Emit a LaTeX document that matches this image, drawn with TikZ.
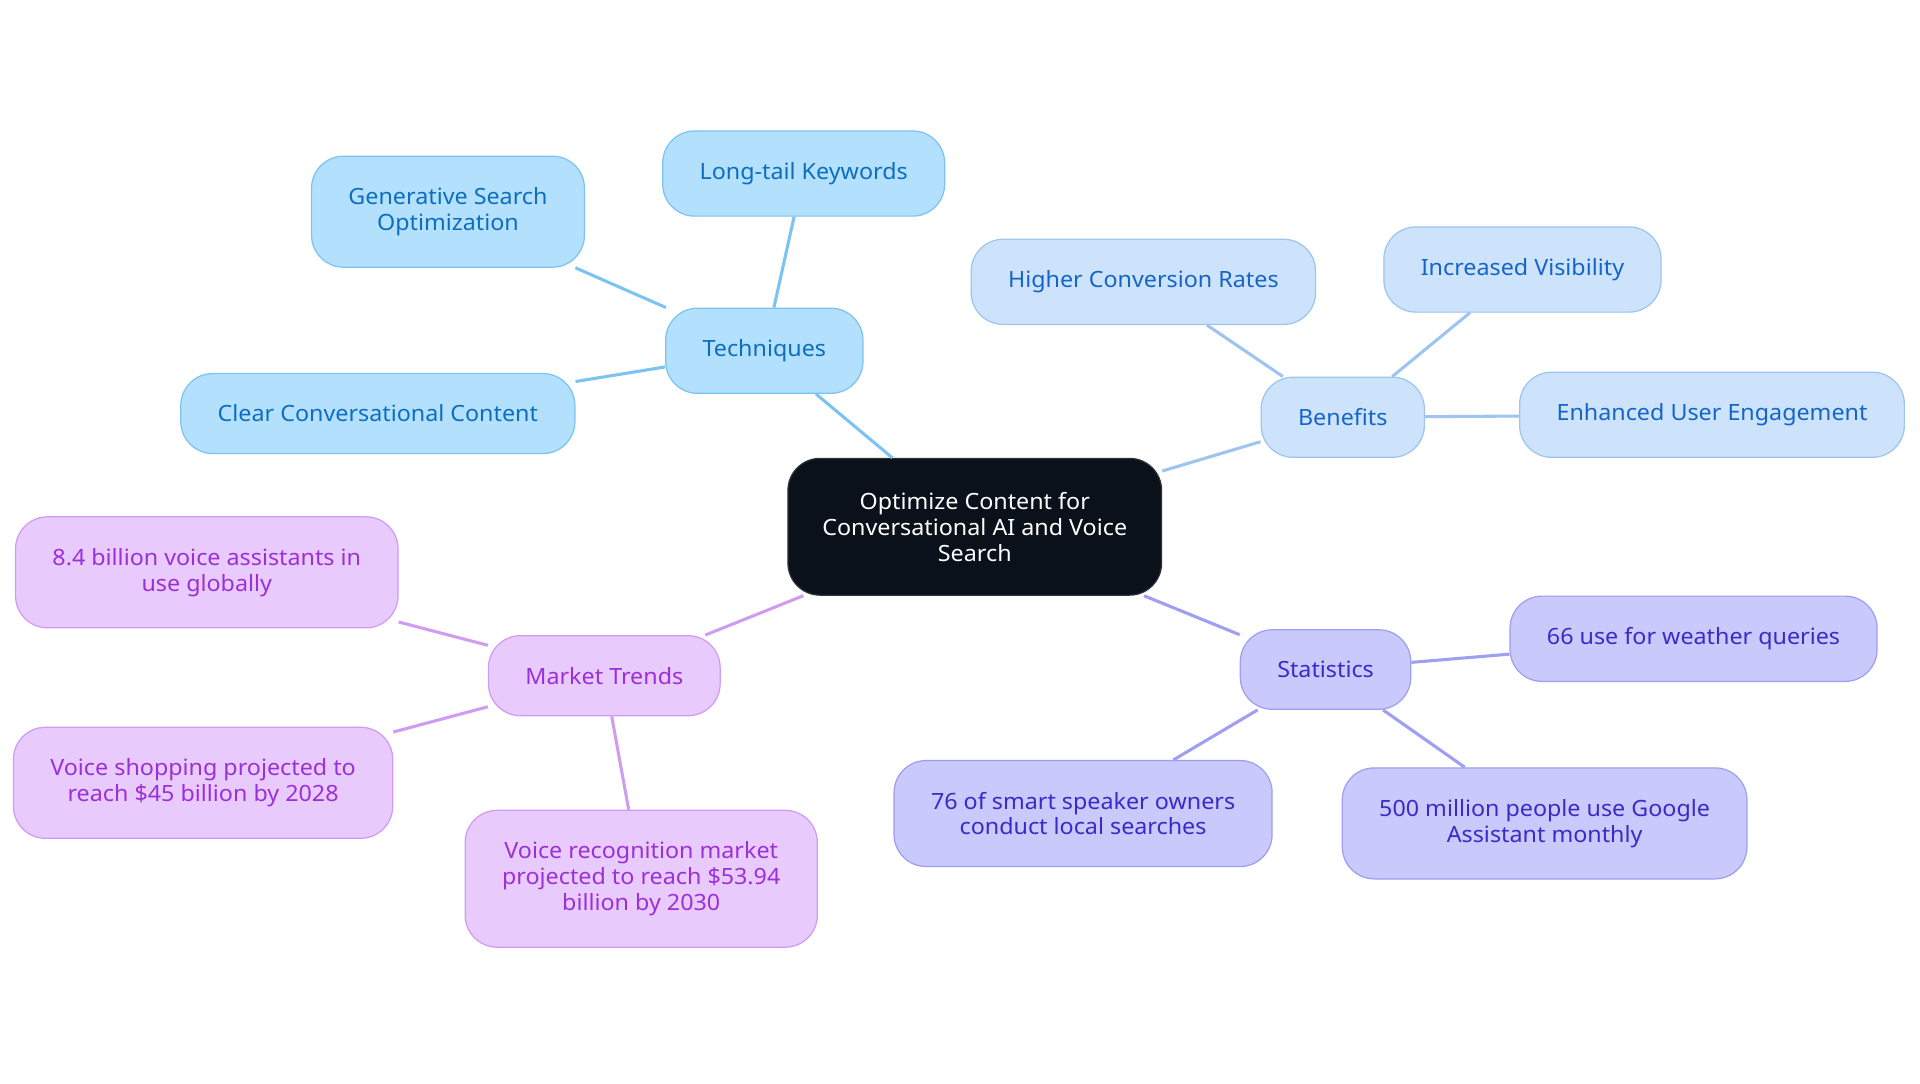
\documentclass[tikz,border=0pt]{standalone}
\usepackage{fontspec}
\setmainfont{Noto Sans}[FakeStretch=1.04]
\usetikzlibrary{calc}

\definecolor{rootfill}{HTML}{0B111A}
\definecolor{techfill}{HTML}{B3E0FD}
\definecolor{techdraw}{HTML}{7DC3F2}
\definecolor{techtext}{HTML}{0D6EC0}
\definecolor{benfill}{HTML}{CDE3FB}
\definecolor{bendraw}{HTML}{9DC5F0}
\definecolor{bentext}{HTML}{1565C8}
\definecolor{statfill}{HTML}{C9C9FC}
\definecolor{statdraw}{HTML}{9E9EF2}
\definecolor{stattext}{HTML}{3A2AC8}
\definecolor{mktfill}{HTML}{E8CAFC}
\definecolor{mktdraw}{HTML}{D09CF2}
\definecolor{mkttext}{HTML}{9B30D8}

\begin{document}
\begin{tikzpicture}
        [
        x=1pt, y=-1pt,
        every node/.style={rounded corners=26pt,align=center,inner xsep=30pt,inner ysep=25.5pt,
          font=\fontsize{18.2}{21}\selectfont,line width=1pt},
        root/.style={fill=rootfill,draw=rootfill!70!gray,text=white,inner xsep=28pt,inner ysep=27.5pt},
        tech/.style={fill=techfill,draw=techdraw,text=techtext},
        ben/.style={fill=benfill,draw=bendraw,text=bentext},
        stat/.style={fill=statfill,draw=statdraw,text=stattext},
        mkt/.style={fill=mktfill,draw=mktdraw,text=mkttext},
        techline/.style={draw=techdraw,line width=2.5pt},
        benline/.style={draw=bendraw,line width=2.5pt},
        statline/.style={draw=statdraw,line width=2.5pt},
        mktline/.style={draw=mktdraw,line width=2.5pt}
        ]
        \useasboundingbox (0,0) rectangle (1560,880);

        \node[root] (root) at (792,428) {Optimize Content for\\Conversational AI and Voice\\Search};

        \node[tech] (tech) at ($(root) + (-171,-143)$) {Techniques};
        \node[tech] (lt)   at ($(tech) + (32,-144)$)   {Long-tail Keywords};
        \node[tech] (gso)  at ($(tech) + (-257,-113)$) {Generative Search\\Optimization};
        \node[tech] (ccc)  at ($(tech) + (-314,51)$)   {Clear Conversational Content};

        \node[ben] (ben) at ($(root) + (299,-89)$) {Benefits};
        \node[ben] (hcr) at ($(ben) + (-162,-110)$) {Higher Conversion Rates};
        \node[ben] (iv)  at ($(ben) + (146,-120)$)  {Increased Visibility};
        \node[ben] (eue) at ($(ben) + (300,-2)$)    {Enhanced User Engagement};

        \node[stat] (stat) at ($(root) + (285,116)$) {Statistics};
        \node[stat] (w66)  at ($(stat) + (299,-25)$) {66 use for weather queries};
        \node[stat] (s76)  at ($(stat) + (-197,117)$) {76 of smart speaker owners\\conduct local searches};
        \node[stat] (g500) at ($(stat) + (178,125)$) {500 million people use Google\\Assistant monthly};

        \node[mkt] (mkt)  at ($(root) + (-301,121)$) {Market Trends};
        \node[mkt] (va84) at ($(mkt) + (-323,-84)$)  {8.4 billion voice assistants in\\use globally};
        \node[mkt] (vs45) at ($(mkt) + (-326,87)$)   {Voice shopping projected to\\reach \$45 billion by 2028};
        \node[mkt] (vr53) at ($(mkt) + (30,165)$)    {Voice recognition market\\projected to reach \$53.94\\billion by 2030};

        \draw[techline] (root) -- (tech);
        \draw[techline] (tech) -- (lt);
        \draw[techline] (tech) -- (gso);
        \draw[techline] (tech) -- (ccc);
        \draw[benline] (root) -- (ben);
        \draw[benline] (ben) -- (hcr);
        \draw[benline] (ben) -- (iv);
        \draw[benline] (ben) -- (eue);
        \draw[statline] (root) -- (stat);
        \draw[statline] (stat) -- (w66);
        \draw[statline] (stat) -- (s76);
        \draw[statline] (stat) -- (g500);
        \draw[mktline] (root) -- (mkt);
        \draw[mktline] (mkt) -- (va84);
        \draw[mktline] (mkt) -- (vs45);
        \draw[mktline] (mkt) -- (vr53);
    \end{tikzpicture}
\end{document}
